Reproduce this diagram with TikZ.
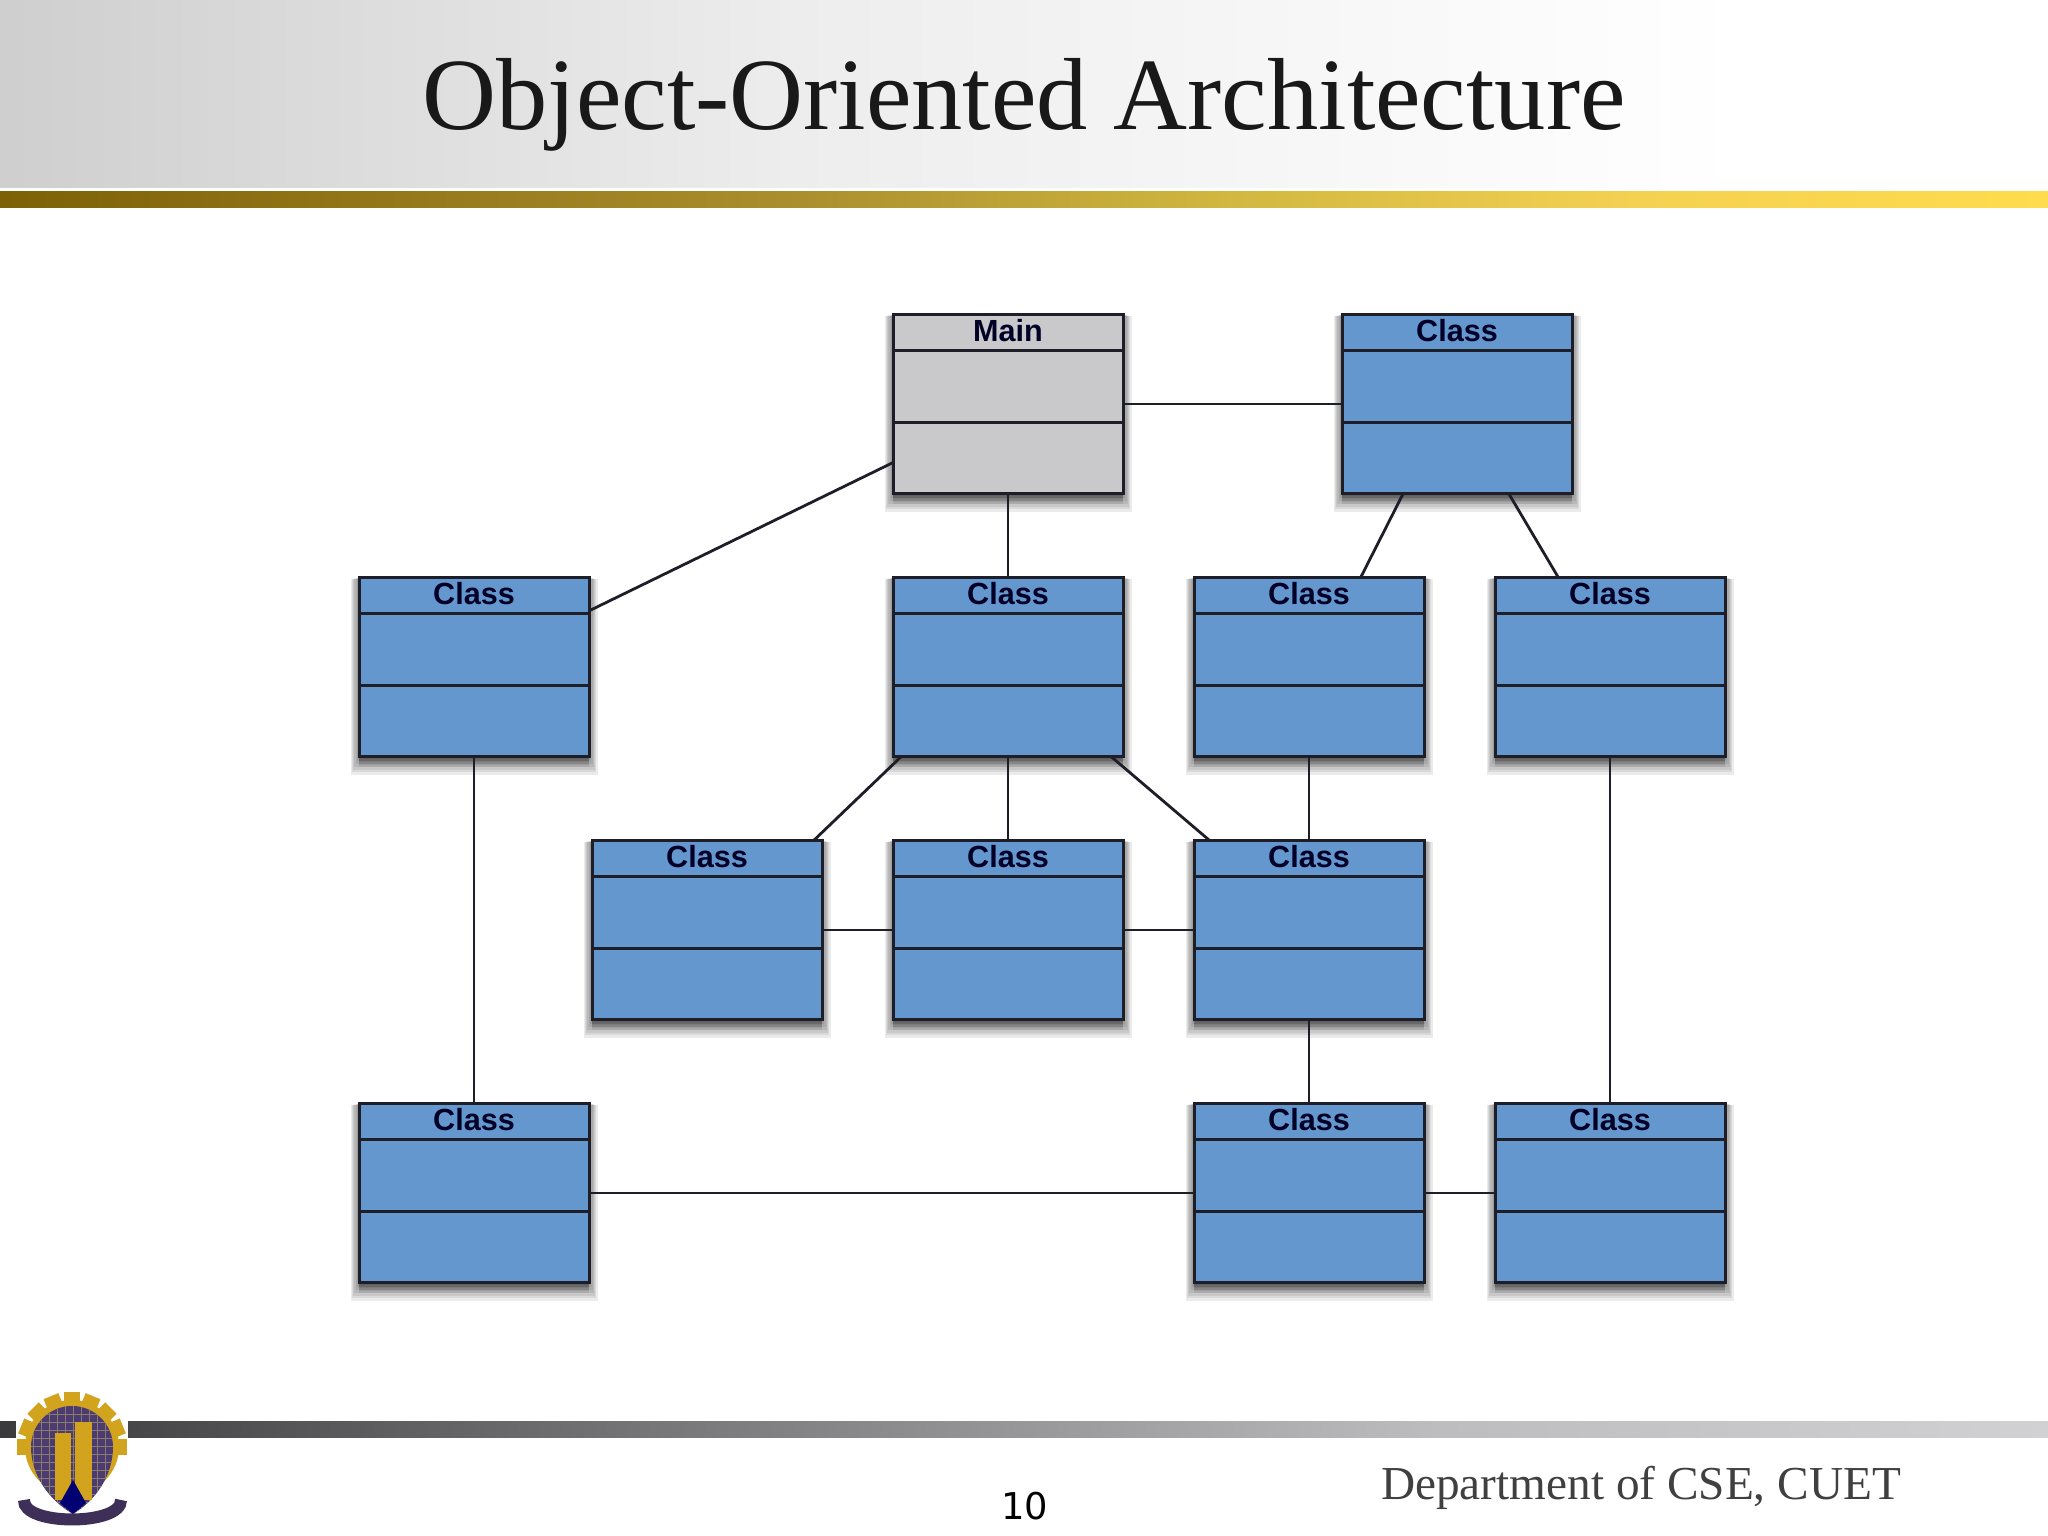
\documentclass[tikz,border=0pt]{standalone}
\usepackage{fontspec}
\setmainfont{Liberation Serif}
\setsansfont{Liberation Sans}
\newfontfamily\pagefont{DejaVu Sans}
\definecolor{classblue}{HTML}{6397CE}
\definecolor{maingray}{HTML}{C9C8CB}
\definecolor{edgedark}{HTML}{1E1E28}
\definecolor{crestgold}{HTML}{D2A41E}
\definecolor{crestpurple}{HTML}{4C3B6E}
\definecolor{cresttan}{HTML}{8A7A70}
\pgfdeclarehorizontalshading{titleband}{100bp}{rgb(0bp)=(.81,.81,.81); rgb(25bp)=(.81,.81,.81); rgb(44.5bp)=(.93,.93,.93); rgb(57.5bp)=(.97,.97,.97); rgb(67.5bp)=(1,1,1); rgb(100bp)=(1,1,1)}
\pgfdeclarehorizontalshading{goldbar}{100bp}{rgb(0bp)=(.49,.38,.02); rgb(25bp)=(.49,.38,.02); rgb(44.5bp)=(.67,.56,.18); rgb(55bp)=(.82,.72,.25); rgb(65bp)=(.96,.82,.32); rgb(75bp)=(1,.86,.30); rgb(100bp)=(1,.86,.30)}
\pgfdeclarehorizontalshading{footbar}{100bp}{rgb(0bp)=(.23,.23,.24); rgb(25bp)=(.23,.23,.24); rgb(47bp)=(.55,.55,.56); rgb(60bp)=(.74,.74,.75); rgb(75bp)=(.82,.82,.83); rgb(100bp)=(.82,.82,.83)}
\tikzset{
  shadowring/.style={preaction={draw=black, fill=black, opacity=.08, line width=#1, transform canvas={yshift=-.6*#1}}},
  classbox/.style={draw=edgedark, line width=.03cm, fill=classblue, minimum width=2.30cm, minimum height=1.79cm,
    inner sep=0pt, outer sep=0pt, text height=.27cm, text depth=1.52cm, font=\sffamily\bfseries\fontsize{8.7}{10}\selectfont,
    text=black!85!blue, shadowring=.17cm, shadowring=.145cm, shadowring=.12cm, shadowring=.095cm, shadowring=.07cm, shadowring=.045cm,
    path picture={
      \draw[edgedark, line width=.025cm] ([yshift=-.36cm]path picture bounding box.north west) -- ([yshift=-.36cm]path picture bounding box.north east);
      \draw[edgedark, line width=.025cm] ([yshift=-1.08cm]path picture bounding box.north west) -- ([yshift=-1.08cm]path picture bounding box.north east);
    }},
  mainbox/.style={classbox, fill=maingray},
  assoc/.style={draw=edgedark, line width=.028cm}
}
\begin{document}
\begin{tikzpicture}
  \useasboundingbox (0,0) rectangle (20.48,15.36);

  % -- Title band --
  \shade[shading=titleband] (0,13.48) rectangle (20.48,15.36);
  \shade[shading=goldbar] (0,13.28) rectangle (20.48,13.44);
  \node[font=\fontsize{29.15}{34}\selectfont, text=black!90, anchor=base] (title) at (10.24,14.06) {Object-Oriented Architecture};

  % -- Footer band --
  \shade[shading=footbar] (0,.98) rectangle (20.48,1.14);
  \node[font=\fontsize{13.45}{16}\selectfont, text=black!75, anchor=base] (dept) at (16.41,.365) {Department of CSE, CUET};
  \node[font=\pagefont\fontsize{10.5}{12}\selectfont, anchor=base] (pagenum) at (10.25,.165) {10};

  % -- Crest --
  \fill[white] (.16,.10) rectangle (1.28,1.36);
  \fill[crestgold] (.72,.89) circle (.47);
  \foreach \a in {0,22.5,...,180}
    \fill[crestgold, rotate around={\a:(.72,.89)}] (1.12,.81) rectangle (1.27,.97);
  \begin{scope}
    \clip (.31,.89) arc (180:0:.41) .. controls (1.13,.60) and (.95,.35) .. (.73,.22) .. controls (.50,.35) and (.31,.60) .. cycle;
    \fill[crestpurple] (.2,.1) rectangle (1.3,1.4);
    \foreach \g in {.25,.33,...,1.25} {
      \draw[cresttan, line width=.01cm] (\g,.1) -- (\g,1.4);
      \draw[cresttan, line width=.01cm] (.2,\g) -- (1.3,\g);
    }
  \end{scope}
  \fill[crestgold] (.55,.36) rectangle (.71,1.03);
  \fill[crestgold] (.75,.36) rectangle (.92,1.14);
  \fill[blue!45!black] (.73,.22) -- (.60,.33) -- (.73,.56) -- (.86,.33) -- cycle;
  \draw[crestpurple!80!black, line width=.12cm] (.24,.36) .. controls (.22,.10) and (1.22,.10) .. (1.21,.36);

  % -- Class boxes --
  \node[mainbox] (main) at (10.08,11.32) {Main};
  \node[classbox] (topclass) at (14.57,11.32) {Class};

  \node[classbox] (farleft) at (4.74,8.69) {Class};
  \node[classbox] (midclass) at (10.08,8.69) {Class};
  \node[classbox] (inner) at (13.09,8.69) {Class};
  \node[classbox] (farright) at (16.10,8.69) {Class};

  \node[classbox] (rowleft) at (7.07,6.06) {Class};
  \node[classbox] (rowmid) at (10.08,6.06) {Class};
  \node[classbox] (rowright) at (13.09,6.06) {Class};

  \node[classbox] (lowleft) at (4.74,3.43) {Class};
  \node[classbox] (lowmid) at (13.09,3.43) {Class};
  \node[classbox] (lowright) at (16.10,3.43) {Class};

  % -- Associations --
  \draw[assoc] (main) -- (topclass);
  \draw[assoc] (main.207) -- (farleft.26.6);
  \draw[assoc] (main) -- (midclass);
  \draw[assoc] (topclass.239.7) -- (inner.60.2);
  \draw[assoc] (topclass.300.3) -- (farright.120.5);
  \draw[assoc] (midclass.220.5) -- (rowleft.40.8);
  \draw[assoc] (midclass) -- (rowmid);
  \draw[assoc] (midclass.319.5) -- (rowright.138.9);
  \draw[assoc] (inner) -- (rowright);
  \draw[assoc] (rowleft) -- (rowmid);
  \draw[assoc] (rowmid) -- (rowright);
  \draw[assoc] (rowright) -- (lowmid);
  \draw[assoc] (farleft) -- (lowleft);
  \draw[assoc] (farright) -- (lowright);
  \draw[assoc] (lowleft) -- (lowmid);
  \draw[assoc] (lowmid) -- (lowright);
\end{tikzpicture}
\end{document}
